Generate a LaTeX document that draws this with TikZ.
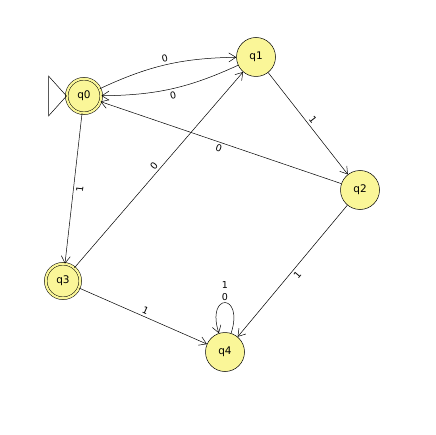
\documentclass[tikz,border=0pt]{standalone}
\usepackage{fontspec}
\setmainfont{DejaVu Sans}
\usetikzlibrary{arrows.meta}

\definecolor{statefill}{RGB}{250,246,152}

\tikzset{
  state/.style={circle, draw, fill=statefill, minimum size=39pt, inner sep=0pt,
    font=\fontsize{10.5}{12}\selectfont},
  accepting/.style={double=statefill, double distance=2.2pt, minimum size=34.5pt},
  trans/.style={-{Straight Barb[length=7pt,width=9pt]}, line width=0.5pt},
  lbl/.style={font=\fontsize{9.5}{11}\selectfont, sloped, inner sep=2.5pt}
}

\begin{document}
\begin{tikzpicture}[x=1pt, y={(0pt,-1pt)}, line cap=round, line width=0.5pt]
  \useasboundingbox (0,0) rectangle (435,435);
  % states
  \node[state, accepting] (q0) at (84,96)  {q0};
  \node[state]            (q1) at (256,57) {q1};
  \node[state]            (q2) at (360,190) {q2};
  \node[state, accepting] (q3) at (63,281) {q3};
  \node[state]            (q4) at (225,352) {q4};
  % start marker
  \draw (q0.west) -- ++(-18,-20) -- ++(0,40) -- cycle;
  % transitions
  \draw[trans] (q0) to[bend left=12] node[lbl, above] {0} (q1);
  \draw[trans] (q1) to[bend left=12] node[lbl, below] {0} (q0);
  \draw[trans] (q1) -- node[lbl, above] {1} (q2);
  \draw[trans] (q2) -- node[lbl, below] {0} (q0);
  \draw[trans] (q0) -- node[lbl, below] {1} (q3);
  \draw[trans] (q3) -- node[lbl, above] {0} (q1);
  \draw[trans] (q3) -- node[lbl, above] {1} (q4);
  \draw[trans] (q2) -- node[lbl, below] {1} (q4);
  \draw[trans] (q4) to[out=72, in=108, looseness=9]
    node[above, font=\fontsize{9.5}{11}\selectfont, align=center, inner sep=2pt] {1\\[1pt]0} (q4);
\end{tikzpicture}
\end{document}
